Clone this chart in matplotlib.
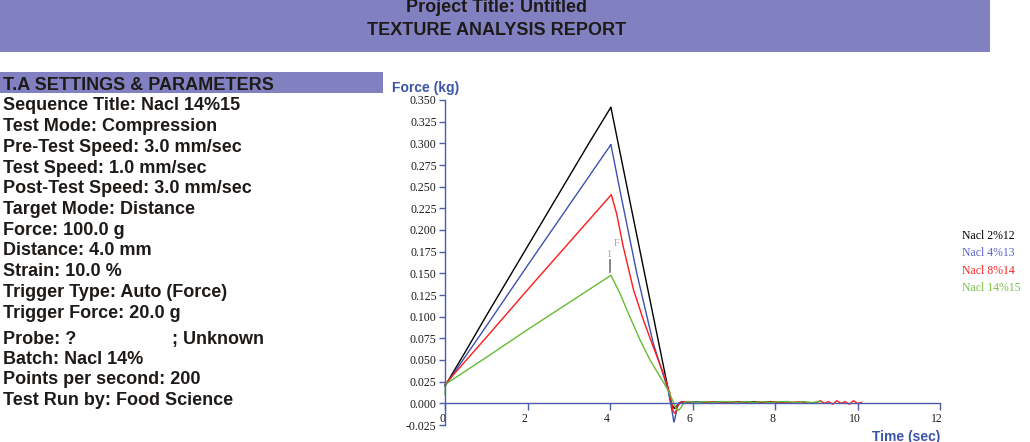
import matplotlib
matplotlib.use("Agg")
import matplotlib.pyplot as plt
from matplotlib.patches import Rectangle
from matplotlib.transforms import ScaledTranslation

plt.rcParams['axes.unicode_minus'] = False

# ---------------- data ----------------
black_time = [0.0, 0.5, 1.0, 1.5, 2.0, 2.5, 3.0, 3.5, 4.0, 4.02, 4.5, 5.0, 5.3, 5.48, 5.56,
              5.62, 5.7, 5.9, 6.1, 6.3, 6.5, 6.7, 6.9, 7.1, 7.3, 7.5, 7.7, 7.9, 8.1, 8.3]
black_force = [0.020, 0.060, 0.101, 0.141, 0.181, 0.221, 0.261, 0.301, 0.340, 0.342, 0.229,
               0.112, 0.042, 0.000, -0.006, -0.003, 0.001, 0.002, 0.001, 0.002, 0.001, 0.002,
               0.000, 0.002, 0.001, 0.002, 0.001, 0.002, 0.001, 0.002]

blue_time = [0.0, 1.0, 2.0, 3.0, 4.0, 4.02, 4.24, 4.65, 5.05, 5.41, 5.5, 5.55, 5.6, 5.65,
             5.75, 5.9, 6.1, 6.3, 6.5, 6.7, 6.9, 7.1, 7.3, 7.5]
blue_force = [0.020, 0.089, 0.159, 0.228, 0.297, 0.299, 0.246, 0.150, 0.069, 0.015, -0.008,
              -0.022, -0.012, 0.000, 0.002, 0.001, 0.002, 0.001, 0.002, 0.001, 0.002, 0.001,
              0.002, 0.001]

red_time = [0.0, 1.0, 2.0, 3.0, 4.0, 4.03, 4.16, 4.32, 4.57, 4.81, 5.05, 5.29, 5.45, 5.53,
            5.58, 5.63, 5.7, 5.8, 6.0, 6.2, 6.4, 6.6, 6.8, 7.0, 7.2, 7.4, 7.6, 7.8, 8.0, 8.2,
            8.4, 8.6, 8.8, 9.0, 9.1, 9.2, 9.3, 9.4, 9.5, 9.6, 9.7, 9.8, 9.9, 10.0, 10.1]
red_force = [0.022, 0.076, 0.131, 0.185, 0.239, 0.241, 0.219, 0.181, 0.131, 0.096, 0.065,
             0.035, 0.012, -0.009, -0.012, -0.004, 0.001, 0.002, 0.001, 0.000, 0.002, 0.001,
             0.000, 0.002, 0.001, 0.000, 0.002, 0.001, 0.002, 0.000, 0.001, 0.002, 0.000,
             0.001, 0.003, 0.000, 0.002, -0.001, 0.003, 0.000, 0.002, -0.001, 0.003, 0.000,
             0.001]

green_time = [0.0, 0.01, 1.0, 2.0, 3.0, 4.0, 4.02, 4.24, 4.48, 4.73, 4.97, 5.21, 5.41, 5.53,
              5.6, 5.66, 5.72, 5.78, 5.85, 5.9, 6.1, 6.3, 6.5, 6.7, 6.9, 7.1, 7.3, 7.5, 7.7,
              7.9, 8.1, 8.3, 8.5, 8.7, 8.9, 9.1]
green_force = [0.010, 0.022, 0.053, 0.085, 0.116, 0.147, 0.148, 0.127, 0.100, 0.073, 0.050,
               0.031, 0.015, 0.002, -0.006, -0.008, -0.005, 0.000, 0.002, 0.002, 0.001, 0.002,
               0.001, 0.002, 0.002, 0.001, 0.002, 0.001, 0.002, 0.001, 0.002, 0.002, 0.001,
               0.002, 0.001, 0.002]

series_names = ["Nacl 2%12", "Nacl 4%13", "Nacl 8%14", "Nacl 14%15"]
series_colors = ["#000000", "#3c52b0", "#ff1a1a", "#66bb33"]
legend_colors = ["#000000", "#5566c4", "#ff2222", "#77c444"]

x_ticks = [0, 2, 4, 6, 8, 10, 12]
y_ticks = [-0.025, 0.0, 0.025, 0.05, 0.075, 0.1, 0.125, 0.15, 0.175, 0.2, 0.225, 0.25,
           0.275, 0.3, 0.325, 0.35]

settings_lines = [
    "Sequence Title: Nacl 14%15",
    "Test Mode: Compression",
    "Pre-Test Speed: 3.0 mm/sec",
    "Test Speed: 1.0 mm/sec",
    "Post-Test Speed: 3.0 mm/sec",
    "Target Mode: Distance",
    "Force: 100.0 g",
    "Distance: 4.0 mm",
    "Strain: 10.0 %",
    "Trigger Type: Auto (Force)",
    "Trigger Force: 20.0 g",
    "Probe: ?",
    "Batch: Nacl 14%",
    "Points per second: 200",
    "Test Run by: Food Science",
]
settings_y = [104, 125, 146, 166.5, 187, 208, 229, 249, 270, 291, 312, 338, 358, 378, 399]

# ---------------- figure ----------------
W, H = 1030, 442
fig = plt.figure(figsize=(W / 100, H / 100), dpi=100)

def fx(x):
    return x / W

def fy(y):
    return 1 - y / H

band = "#8181c1"
fig.add_artist(Rectangle((0, fy(52)), fx(990), 52 / H, transform=fig.transFigure,
                         facecolor=band, edgecolor='none'))
fig.add_artist(Rectangle((0, fy(92.5)), fx(383), 20.5 / H, transform=fig.transFigure,
                         facecolor=band, edgecolor='none'))

sans = ['Liberation Sans', 'DejaVu Sans']
serif = ['Liberation Serif', 'DejaVu Serif']
dark = "#1e1a18"

fig.text(fx(497), fy(12.5), "Project Title: Untitled", ha='center', va='baseline',
         family=sans, weight='bold', fontsize=13, color=dark)
fig.text(fx(497), fy(35), "TEXTURE ANALYSIS REPORT", ha='center', va='baseline',
         family=sans, weight='bold', fontsize=13, color=dark)
fig.text(fx(3), fy(90), "T.A SETTINGS & PARAMETERS", ha='left', va='baseline',
         family=sans, weight='bold', fontsize=13, color=dark)

for line, yc in zip(settings_lines, settings_y):
    fig.text(fx(3), fy(yc + 6.4), line, ha='left', va='baseline',
             family=sans, weight='bold', fontsize=13, color=dark)
fig.text(fx(172), fy(338 + 6.4), "; Unknown", ha='left', va='baseline',
         family=sans, weight='bold', fontsize=13, color=dark)

axis_blue = "#4a5cb0"
title_blue = "#3a55a8"
fig.text(fx(392), fy(92), "Force (kg)", ha='left', va='baseline',
         family=sans, weight='bold', fontsize=10, color=title_blue)
fig.text(fx(872), fy(441), "Time (sec)", ha='left', va='baseline',
         family=sans, weight='bold', fontsize=10, color=title_blue)

# legend text
for name, col, yc in zip(series_names, legend_colors, [236, 253, 271, 288]):
    fig.text(fx(962), fy(yc), name, ha='left', va='center',
             family=serif, fontsize=8.5, color=col)

ax = fig.add_axes([fx(445), fy(425), (940 - 445) / W, (425 - 100) / H])
ax.patch.set_alpha(0)
ax.set_xlim(0, 12)
ax.set_ylim(-0.025, 0.35)

for t, f, c in zip([black_time, blue_time, red_time, green_time],
                   [black_force, blue_force, red_force, green_force], series_colors):
    ax.plot(t, f, color=c, lw=1.0, solid_joinstyle='miter', clip_on=False)

# annotations near peak
ax.text(4.16, 0.184, "F", family=serif, fontsize=7.5, color="#a8a098", ha='center', va='center')
ax.text(3.98, 0.172, "1", family=serif, fontsize=7.5, color="#a0a0a0", ha='center', va='center')
ax.plot([4.0, 4.0], [0.152, 0.165], color="#707070", lw=1.2)

for s in ['top', 'right']:
    ax.spines[s].set_visible(False)
ax.spines['bottom'].set_position(('data', 0))
ax.spines['left'].set_color(axis_blue)
ax.spines['bottom'].set_color(axis_blue)
ax.spines['left'].set_linewidth(1.0)
ax.spines['bottom'].set_linewidth(1.0)

ax.set_xticks(x_ticks)
ax.set_xticklabels([str(v) for v in x_ticks])
ax.set_yticks(y_ticks)
ax.set_yticklabels(["%.3f" % v for v in y_ticks])
ax.tick_params(axis='both', colors=axis_blue, labelcolor=dark, labelsize=8.5, width=1.0)
ax.tick_params(axis='x', direction='out', length=5, pad=2)
ax.tick_params(axis='y', direction='out', length=4, pad=2)
for lab in ax.get_xticklabels() + ax.get_yticklabels():
    lab.set_family(serif)
off = ScaledTranslation(-3 / 100, 0, fig.dpi_scale_trans)
for lab in ax.get_xticklabels():
    lab.set_transform(lab.get_transform() + off)

fig.savefig("out.png", dpi=100)
